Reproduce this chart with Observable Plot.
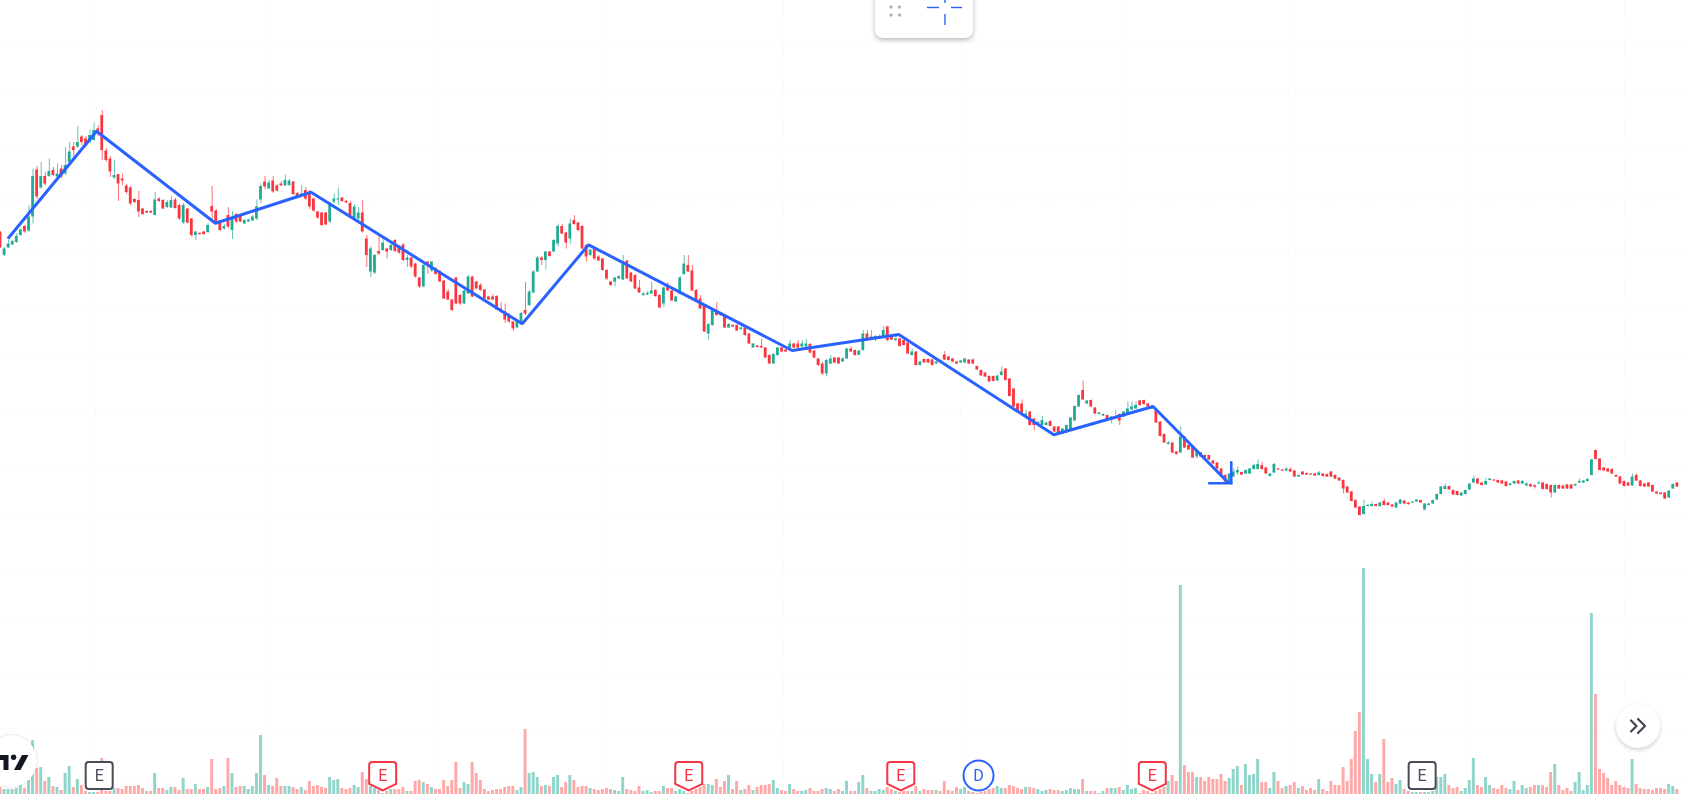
<!DOCTYPE html>
<html>
<head>
<meta charset="utf-8">
<script src="https://cdn.jsdelivr.net/npm/d3@7"></script>
<script src="https://cdn.jsdelivr.net/npm/@observablehq/plot@0.6"></script>
<style>
html,body{margin:0;padding:0;background:#fff;overflow:hidden}
#wrap{position:relative;width:1681px;height:794px;overflow:hidden;filter:blur(.6px);font-family:Roboto,"Liberation Sans",sans-serif}
#wrap svg{display:block}
.ui{position:absolute}
</style>
</head>
<body>
<div id="wrap"></div>
<script>
const open = [
368,345,352.5,355.5,358,365,374,369.5,383.5,430.5,
412.5,424,424,430,423.5,431.5,426.5,438,453.5,453.5,
463.5,461.5,458,460,471.5,485,449.5,441.5,422.5,426,
421.5,414.5,412.5,401,400,391.5,389,389,385,401.5,400,
393,392.5,400.5,395,377.5,391.5,381.5,365,367,368.5,
368,394,389.5,379.5,371.5,385,370,386,385,
376.5,378.5,379.5,381.5,400.5,418.5,411.5,419.5,414.5,416.5,
414.5,415,418.5,407,405,410,408.5,401.5,388.5,387.5,
387.5,378.5,398.5,400.5,402.5,399,397,381.5,381.5,387.5,
361.5,328.5,327.5,349,350,351.5,350,360,353.5,355.5,
340,342.5,336.5,322.5,313.5,338.5,329.5,331.5,328.5,319.5,
308.5,300.5,322.5,305,296.5,306.5,323.5,318.5,315,310.5,
303.5,303.5,304,291.5,289,285,278.5,272.5,276.5,290,
295,307.5,328.5,342.5,340,348.5,348.5,356.5,374,367.5,
361.5,380,377.5,374,355,345,351.5,343.5,341.5,330,
318.5,318.5,321.5,320.5,339.5,327.5,325,312.5,305,305.5,
306.5,310,305,296.5,315,309.5,298.5,306.5,326,335,
329.5,310,301.5,295,266.5,275,288.5,286.5,285,272.5,
275,275,271,272.5,266.5,252.5,254.5,254,252.5,245,
236.5,245,252.5,250.5,250,256.5,256.5,253.5,253.5,256,
249.5,241.5,236.5,226.5,236.5,242.5,242.5,238.5,241.5,251.5,
250,245,250,266.5,260.5,261.5,262.5,264,273.5,263.5,
260,261.5,260,257.5,245,248.5,235,241,241,240.5,
236.5,240,245.5,243.5,241.5,238.5,237.5,237.5,240.5,240.5,
234,230,227.5,224,224,219.5,225,231.5,221.5,211.5,
196.5,196.5,184,188.5,181.5,176,175,175,179,173.5,
173.5,166.5,167.5,170,179.5,193.5,210,196.5,200,192.5,
186,184.5,185,180.5,181.5,186,183.5,186.5,190.5,191.5,
199.5,200,196.5,191.5,190.5,178.5,166,156,157.5,148.5,
147.5,163.5,155,153.5,143.5,147.5,145,145,139.5,137.5,
131.5,125,116.5,123.5,127.5,128,126.5,126.5,131,131,
135,132.5,124,127.5,131.5,130.5,129.5,131,129.5,123.5,
128.5,127,126.5,126.5,125,126.5,126,128.5,125,122.5,
120,113.5,108.5,100,93.5,86,94,94,96,94,
99,97.5,95.5,92.5,96.5,99.5,97.5,97.5,98.5,100,
90.5,95,96.5,100.5,106,111,114,110,109,104.5,
106,110.5,117.5,121.5,117.5,115.5,120,120.5,120,119.5,
118.5,115,116.5,119.5,116.5,114.5,116,115,116.5,117.5,
116,115,107.5,115,114.5,115.5,115.5,114.5,117.5,117.5,
119,125,150,141.5,132.5,131.5,131,125,123.5,119,
117.5,114.5,125,119.5,116.5,117.5,115,108.5,107.5,107.5,
102.5,111.5,117.5];
const close = [
353,351.5,356.5,359,364,370.5,368.5,383.5,424,403.5,
424,416.5,429,425,426.5,423.5,435,448.5,450,458,
458,455,465,470,468.5,450,440,428.5,425,416.5,
419.5,408,396.5,398,388.5,386,387.5,387.5,400.5,399,391.5,
398,400,392,381.5,395,377.5,365,368.5,366,366,
375,388.5,378.5,370,374,373.5,381.5,378.5,378.5,
380,380.5,383.5,393.5,414,413.5,417.5,408.5,409.5,414.5,
420,419.5,406,402.5,406.5,401.5,393.5,389.5,382.5,375,
375.5,396,401.5,401.5,399,397.5,384,393.5,387.5,368.5,
345,351.5,345,346.5,357.5,348.5,355,349,347.5,340,
342.5,333.5,323.5,313.5,335,335,338.5,326,318.5,301.5,
300.5,290,296.5,296.5,309.5,323.5,303.5,311.5,310,301.5,
300.5,300.5,290.5,288.5,280.5,278.5,271.5,278.5,287,286.5,
308.5,328.5,342.5,340,348.5,344,360,374,366.5,357.5,
376.5,376,370,351.5,343.5,350.5,341.5,339.5,330,321.5,
315,322.5,324,336.5,321.5,318.5,311.5,307.5,306.5,307,
309.5,304,292.5,312.5,309.5,299.5,303.5,322.5,336.5,328.5,
309.5,298.5,291.5,268.5,276,290,285,285,272.5,276,
273.5,269.5,272.5,265,256.5,256.5,253,252.5,242.5,236.5,
246,252.5,248.5,248.5,256.5,252.5,252.5,256.5,256.5,247.5,
242.5,235,226.5,240,241.5,237.5,236.5,241.5,251.5,248.5,
245,249.5,266.5,260,263.5,264,264,270,260,260.5,
261.5,254,255,246.5,248.5,235,238.5,237.5,237.5,235,
238.5,238,240.5,240,238.5,236.5,239.5,241.5,236.5,236.5,
230.5,224.5,223.5,218.5,219,224.5,228.5,220,204,193.5,
188.5,186.5,186.5,175,175,178,180,177.5,174,168.5,
167.5,171.5,175,182.5,194,205,200.5,199.5,193.5,186.5,
187.5,186,180,183.5,184,179.5,188.5,191.5,193.5,195,
195,196,193.5,194,177.5,164,157.5,157.5,147.5,146,
163.5,152.5,150.5,142.5,148.5,143.5,142.5,140.5,136.5,131.5,
125,118.5,126.5,128.5,130,125.5,130,131.5,135,136,
131,126.5,126.5,136,130.5,129.5,131.5,128.5,123.5,125,
125.5,125.5,125.5,124.5,127.5,124,123.5,123.5,121.5,119.5,
111.5,107.5,99,92.5,85,94,95,96,94,97.5,
95,95,93.5,97.5,100.5,96.5,96,98.5,100.5,97.5,
96.5,96.5,100,106,113.5,114,110.5,105.5,105,107.5,
110,116.5,121.5,116.5,115,119,121.5,119.5,117.5,116.5,
114,116.5,119,116.5,119,116.5,113.5,113.5,117.5,111,
111,107.5,115,111.5,111.5,111.5,111.5,116,119,119.5,
121,140.5,141,130,129.5,128.5,126.5,123.5,116.5,114,
114.5,123.5,119.5,114,113.5,113.5,108.5,106.5,106,101.5,
109.5,116,113.5];
const high = [
369,353,360,360,367,372,375,395,431.5,434,
438,428,441.5,433,436.5,435,453,458,458,474,
465,464,470.5,477.5,475,490,452,444,440.5,426,
426.5,416,414,402,409,392,390,390,408,403,401,
400,404,402,396,397,392,382,369,368,369,
377,414,391,380,376,393,389,387,386,
381,381.5,385,400.5,416.5,424,420,424,416,419,
425.5,421,419,408,415,413,410,402,389,388,
388,398,406.5,412.5,403,400,399,396,393,400,
365,354,346,365,363,352,358,361,355,357,
345,343,337,323,336,339,339,333,330,320,
311,301,323,306,310,325,324,319,317,311,
304,306,305,298,296.5,287,279,279,288,318,
310,330,344,344,349,349,361,376.5,376,368,
381.5,385,378,375,356,351,352,345,342,331,
319,323,325,345,340,328,326,320,308,309,
318,311,306,314,318,310,304,324,345,345,
335,311,305,296,277,291,298,288,286,277,
276,276,274,273,267,257,255,261.5,253,246,
247,253,253,251,260,257,260,260,261,257,
250,242,238,241,245,243,243,243,252,254,
250.5,250,270,270,270,265,266,274,274.5,264,
265,262,260.5,258,251.5,249,239,241.5,241.5,241,
239,240.5,249,244,242,239,240,242,241,241.5,
234.5,230.5,228,224.5,224.5,225,233.5,232,222,212,
197,200.5,190.5,189,182,179,184,178,179.5,174,
174,172,175.5,183,194.5,205.5,219.5,200,200.5,193,
188,186.5,185.5,184,190,186.5,189,198.5,198.5,198.5,
200,200.5,197,194.5,191,179,166.5,159,158,149,
174,164,155.5,154,149,148,145.5,145.5,140,138,
132,125.5,127,131.5,133.5,128.5,130.5,132,136,140.5,
138.5,133,127,137,132,131,133,133,130,125.5,
129,127.5,127,127,129,127,126.5,129,125.5,123,
120.5,114,109,100.5,94,100.5,96,98.5,96.5,98,
101.5,98,96,98,101,100,98,99,101,100.5,
97,97,100.5,106.5,114,116.5,114.5,110.5,109.5,108,
110.5,117,124.5,122,118,122.5,122,121,120.5,120,
119,117,119.5,120,120,118,116.5,115.5,119,118,
116.5,115.5,115.5,115.5,115,116,116,116.5,121.5,120,
122,141.5,150.5,142,133,132,131.5,125.5,124,119.5,
118,126.5,126.5,120,117,118,115.5,109,108,108,
110,116.5,118];
const low = [
352,344,352,355,357,364,367,368,376.5,401,
411.5,415,423,424,423,422,425,437,441.5,452,
455,453,457,459.5,464,440,438,423,421,399,
415,406,394.5,397,383,385,387,387,384.5,398,391,
392,392,391.5,380,376,376.5,363,360,365,365,
367,378,377,369,370.5,372,361,377,378,
376,378,379,380,396.5,410.5,411,407,408.5,414,
414,414,405,402,404,400,391,388,381,374,
375,377,397,395,398,397,383,380,376.5,367.5,
333,323,326,345,349,341.5,349,348,346,339,
333,332,322,312,312.5,326,328,325,318,301,
300,289,296,295,296,306,303,311,309,301,
300,300,290,287,277,277,269,272,276,285,
294,307,328,335,330.5,343.5,348,353.5,366,351.5,
356.5,375,369,351,338.5,344,340,339,329,320,
314,314,321,320,321,318,311,307,304,305,
306,303,292,293,309,299,298,306,325,328,
309,298,291,268,260.5,274,284,284,272,272,
273,269,270,264,256,252,252.5,252,242,236,
236,244,248,248,249,252,252,253,253,247,
242,234,225,223.5,236,237,236,238,241,248,
244.5,245,249.5,259.5,260,258.5,262,263.5,258.5,260,
258.5,253.5,254.5,246,244.5,234.5,234.5,237,237,234.5,
236,237.5,240,239.5,238,236,237,237,236,236,
230,224,223,218,218.5,219,224.5,219.5,203.5,193,
188,186,183.5,174.5,170,175.5,174.5,174.5,173.5,168,
167,166,167,169.5,179,193,200,196,193,186,
185.5,184,179.5,176.5,181,175,183,186,190,191,
194.5,195.5,193,191,177,163.5,157,155.5,147,145.5,
147,152,150,142,141.5,143,142,140,136,131,
124.5,118,116,123,125,125,126,126,130.5,130.5,
130.5,126,123.5,127,130,129,129,128,123,123,
125,125,125,124,124.5,123.5,123,123,121,119,
106.5,107,98.5,92,84.5,85.5,93.5,93.5,93.5,93.5,
94.5,94.5,93,92,96,96,95,97,98,97,
89.5,94.5,96,100,105.5,110.5,110,105,104.5,104,
105.5,110,117,116,114.5,115,119.5,119,117,116,
113.5,114.5,116,116,116,114,113,111.5,116,110.5,
110.5,102.5,107,111,111,111,111,114,117,117,
118.5,124.5,140.5,129.5,129,128,126,123,116,113.5,
114,114,119,113.5,113,113,108,106,105.5,101,
102,111,113];
const volume = [
7,5,5,5,6,9,6,14,54,26,
27,13,17,8,7,4,21,28,7,15,
9,3,2,2,2,36,3,3,6,6,
5,8,8,8,9,6,3,3,21,6,6,
4,7,7,4,16,5,5,10,5,5,
7,35,5,6,8,36,21,7,8,8,
5,8,21,59,19,9,8,16,8,
8,8,7,5,7,4,13,8,9,7,
6,17,14,15,6,5,6,9,7,22,
15,8,6,4,1,3,5,5,5,7,
3,3,13,14,12,10,7,5,5,14,
8,14,32,6,12,10,32,21,14,5,
3,4,5,5,7,8,8,4,7,65,
21,22,17,8,9,8,17,19,7,12,
19,14,7,8,8,6,5,4,5,6,
5,4,3,17,5,4,3,8,3,4,
2,3,3,8,6,6,3,5,3,1,
3,5,7,10,10,9,15,7,13,19,
5,13,4,5,9,4,7,9,9,10,
14,6,4,3,10,5,3,3,4,6,
3,3,5,6,5,3,5,3,13,3,
3,12,19,6,3,3,5,4,7,5,
3,2,3,3,3,8,3,5,4,4,
4,3,13,4,3,7,5,7,3,2,
1,2,3,5,6,8,6,6,9,8,
6,5,7,7,6,5,3,4,5,4,
4,3,4,6,5,5,15,3,3,3,
1,3,6,6,6,7,4,9,5,6,
1,4,3,1,3,5,7,13,19,13,
209,29,22,22,17,17,13,17,15,15,
20,13,16,25,28,9,30,19,20,35,
12,12,6,22,13,6,8,9,12,6,
8,4,6,4,15,5,3,13,9,9,
27,13,35,63,82,226,35,20,12,20,
55,12,16,10,14,5,3,2,2,2,
2,2,3,17,17,20,9,6,7,3,
6,14,36,9,7,17,9,6,5,9,
6,5,13,4,9,6,7,9,9,9,
7,22,30,9,4,6,3,12,22,4,
9,181,100,25,21,16,9,13,9,7,
6,35,10,6,5,5,4,6,6,5,
10,8,5];

const zigzagBar = [1.8,23.6,52.8,76.3,128.2,144.5,194.5,220.7,258.8,283.2,301.8];
const zigzagPrice = [361.7,469.3,377.3,408.3,276.7,355.7,250,266,165.7,194,117.3];
const arrowBarH = [297,302.4];
const arrowPriceH = [117.3,117.3];
const arrowBarV = [302.4,302.4];
const arrowPriceV = [117.3,138.3];

const gridPrices = [559.7,506.7,453.5,400.7,347.7,295,242,189,136,83,30.5,-22.5,-76,-128,-180];
const gridBars = [23.3,66.2,107.7,148.6,192.4,235.9,275.8,316.5,360.4,399];

const badgeBars = [24.25,93.9,169.1,221.2,240.3,283,349.3];
const badgeLabels = ["E","E","E","E","D","E","E"];
const badgeKinds = ["past","earn","earn","earn","div","earn","past"];
const badgePrice = -175;
const volumeBase = -194;

const UP = "#22ab94", DOWN = "#f9353f", BLUE = "#2962ff";
const UP_VOL = "#8fd5ca", DOWN_VOL = "#ffa8a8";
const GREY = "#4a4d59";

const bars = open.map((o,i)=>({bar:i,open:o,close:close[i],high:high[i],low:low[i],volume:volume[i]}));
const zigzag = zigzagBar.map((b,i)=>({bar:b,price:zigzagPrice[i]}));
const arrowH = arrowBarH.map((b,i)=>({bar:b,price:arrowPriceH[i]}));
const arrowV = arrowBarV.map((b,i)=>({bar:b,price:arrowPriceV[i]}));
const badges = badgeBars.map((b,i)=>({bar:b,label:badgeLabels[i],kind:badgeKinds[i],price:badgePrice}));

function rounded(c,x0,y0,x1,y1,r){
  c.moveTo(x0+r,y0);c.lineTo(x1-r,y0);c.arcTo(x1,y0,x1,y0+r,r);
  c.lineTo(x1,y1-r);c.arcTo(x1,y1,x1-r,y1,r);
  c.lineTo(x0+r,y1);c.arcTo(x0,y1,x0,y1-r,r);
  c.lineTo(x0,y0+r);c.arcTo(x0,y0,x0+r,y0,r);c.closePath();
}
const squareSymbol = {draw(c,size){const s=Math.sqrt(size/Math.PI);rounded(c,-s,-s,s,s,3);}};
const shieldSymbol = {draw(c,size){const s=Math.sqrt(size/Math.PI);
  c.moveTo(-s+3,-s);c.lineTo(s-3,-s);c.arcTo(s,-s,s,-s+3,3);c.lineTo(s,s*0.62);c.lineTo(0,s+1.5);c.lineTo(-s,s*0.62);c.lineTo(-s,-s+3);c.arcTo(-s,-s,-s+3,-s,3);c.closePath();}};

const chart = Plot.plot({
  width:1681,height:794,
  marginTop:0,marginRight:0,marginBottom:0,marginLeft:0,
  x:{type:"linear",domain:[0,1681/4.07],axis:null},
  y:{type:"linear",domain:[600,-194],range:[0,794],axis:null},
  color:{type:"identity"},
  style:{background:"#fff"},
  marks:[
    Plot.ruleY(gridPrices,{y:d=>d,stroke:"#f3f5fa",strokeWidth:1,strokeDasharray:"1,1.5"}),
    Plot.ruleX(gridBars,{x:d=>d,stroke:"#f3f5fa",strokeWidth:1,strokeDasharray:"1,1.5"}),
    Plot.rect(bars,{x1:d=>d.bar-0.36,x2:d=>d.bar+0.36,y1:volumeBase,y2:d=>volumeBase+d.volume,
      fill:d=>d.close>=d.open?UP_VOL:DOWN_VOL}),
    Plot.ruleX(bars,{x:"bar",y1:"low",y2:"high",stroke:d=>d.close>=d.open?UP:DOWN,strokeWidth:1,strokeOpacity:0.7}),
    Plot.rect(bars,{x1:d=>d.bar-0.34,x2:d=>d.bar+0.34,y1:"open",y2:"close",
      fill:d=>d.close>=d.open?UP:DOWN}),
    Plot.line(zigzag,{x:"bar",y:"price",stroke:BLUE,strokeWidth:3,strokeLinejoin:"miter",strokeLinecap:"butt"}),
    Plot.line(arrowH,{x:"bar",y:"price",stroke:BLUE,strokeWidth:2.6}),
    Plot.line(arrowV,{x:"bar",y:"price",stroke:BLUE,strokeWidth:2.6}),
    Plot.dot(badges.filter(d=>d.kind==="past"),{x:"bar",y:"price",r:13.5,symbol:squareSymbol,fill:"#fff",stroke:GREY,strokeWidth:2}),
    Plot.dot(badges.filter(d=>d.kind==="earn"),{x:"bar",y:"price",r:13.5,symbol:shieldSymbol,fill:"#fff",stroke:"#f23645",strokeWidth:2}),
    Plot.dot(badges.filter(d=>d.kind==="div"),{x:"bar",y:"price",r:15,fill:"#fff",stroke:BLUE,strokeWidth:2}),
    Plot.text(badges,{x:"bar",y:"price",text:"label",fontSize:16,
      fill:d=>d.kind==="past"?GREY:d.kind==="earn"?"#f23645":BLUE,
      fontWeight:d=>d.kind==="div"?700:400,fontFamily:"Roboto, sans-serif"})
  ]
});
const wrap = document.getElementById("wrap");
wrap.appendChild(chart);

const overlay = document.createElement("div");
overlay.innerHTML = `
<div class="ui" style="left:875px;top:-20px;width:98px;height:58px;background:#fff;border-radius:8px;box-shadow:0 2px 5px rgba(0,0,0,.28)">
<svg width="98" height="58" style="position:absolute;left:0;top:0">
<g fill="#b2b5be"><circle cx="16" cy="27" r="1.7"/><circle cx="24.5" cy="27" r="1.7"/><circle cx="16" cy="35" r="1.7"/><circle cx="24.5" cy="35" r="1.7"/></g>
<g stroke="#2962ff" stroke-width="1.4"><line x1="52" x2="64" y1="27.5" y2="27.5"/><line x1="76" x2="87" y1="27.5" y2="27.5"/><line x1="70" x2="70" y1="34" y2="45"/><line x1="70" x2="70" y1="16" y2="23"/></g>
</svg></div>
<div class="ui" style="left:-15px;top:735px;width:52px;height:52px;border-radius:50%;background:#fff;box-shadow:0 0 2px rgba(0,0,0,.22)"></div>
<svg class="ui" style="left:0;top:745px" width="36" height="32"><g fill="#131722"><path d="M0 10H8.5V25H3.5V15H0Z"/><circle cx="13.6" cy="12.2" r="2.7"/><path d="M22 10H28.5L20.5 25H14Z"/></g></svg>
<div class="ui" style="left:1616px;top:704px;width:44px;height:44px;border-radius:50%;background:#fff;box-shadow:0 2px 4px rgba(0,0,0,.18)">
<svg width="44" height="44"><g fill="none" stroke="#434651" stroke-width="2.2" stroke-linecap="round" stroke-linejoin="round"><path d="M15 16.5l5.5 5.5-5.5 5.5"/><path d="M22 15l7 7-7 7"/></g></svg></div>`;
wrap.appendChild(overlay);
</script>
</body>
</html>
